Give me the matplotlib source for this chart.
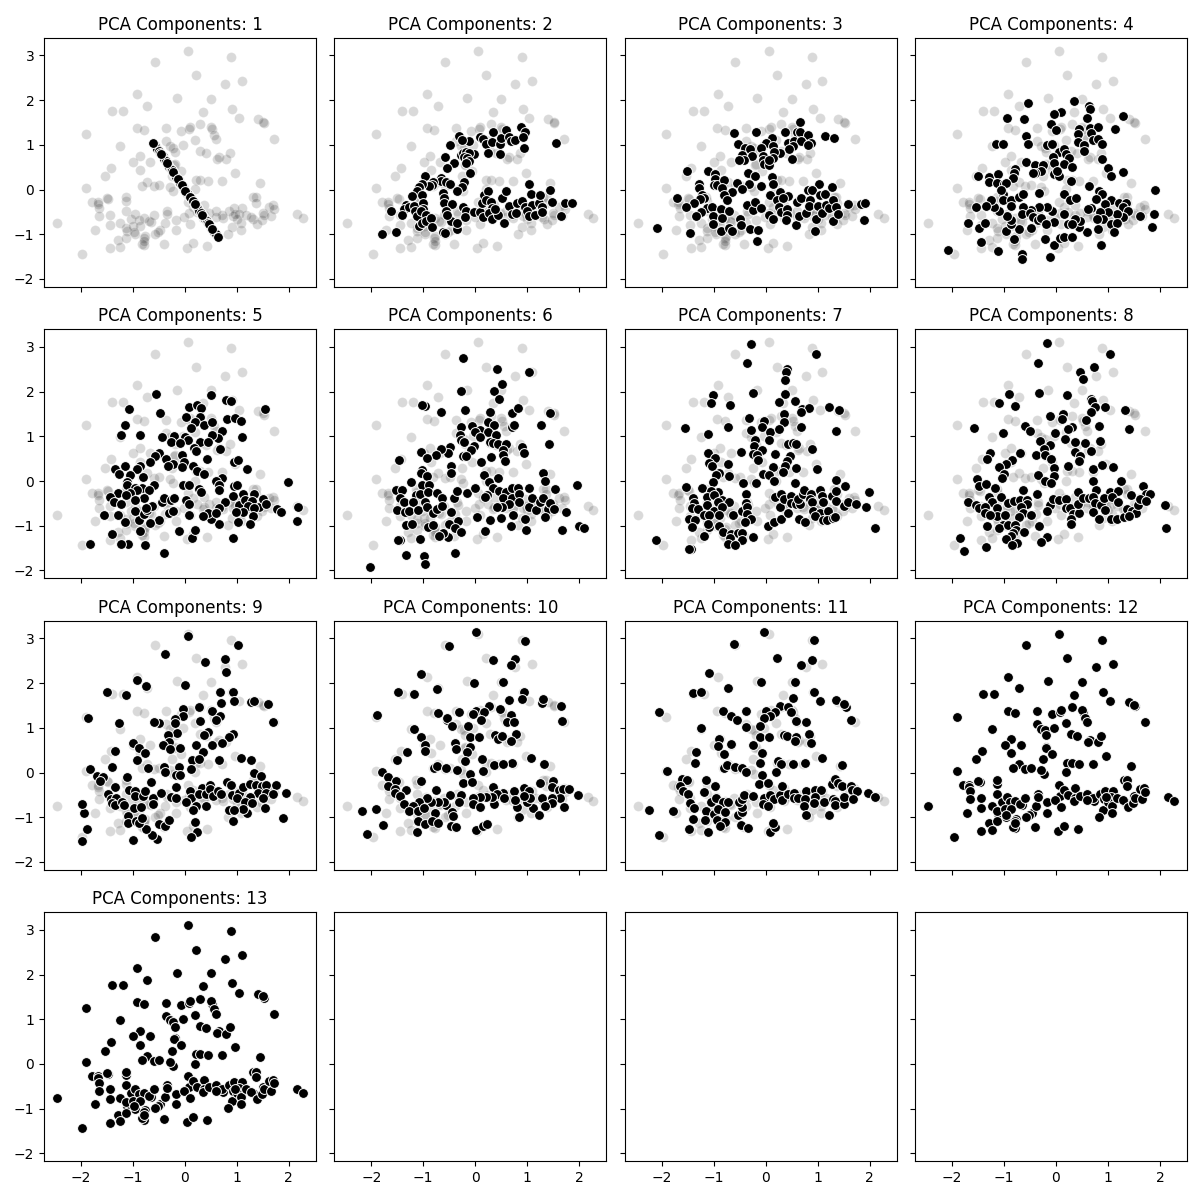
import matplotlib
matplotlib.use("Agg")
import matplotlib.pyplot as plt
import numpy as np

original = [(0.06,3.10),(0.89,2.97),(-0.58,2.85),(0.21,2.56),(0.77,2.35),(1.09,2.43),(-0.92,2.14),(-0.16,2.04),(0.50,2.03),(-0.72,1.88),(-1.40,1.76),(-1.19,1.76),(0.91,1.81),(0.34,1.74),(1.04,1.59),(1.40,1.57),(1.52,1.48),(1.51,1.52),(0.30,1.46),(-1.91,1.25),(-0.93,1.38),(-0.79,1.34),(-0.37,1.37),(-0.08,1.31),(0.07,1.36),(0.10,1.40),(0.52,1.35),(0.50,1.40),(0.56,1.22),(0.60,1.12),(0.20,1.10),(1.71,1.12),(-0.37,1.08),(-0.28,0.98),(-0.22,0.94),(-0.04,1.00),(-1.24,0.98),(-0.19,0.83),(0.29,0.86),(0.40,0.81),(0.65,0.73),(0.62,0.69),(0.80,0.68),(0.86,0.82),(-0.87,0.74),(-0.99,0.62),(-0.67,0.62),(-0.19,0.58),(-0.20,0.55),(-0.86,0.43),(-0.07,0.42),(0.97,0.37),(-1.43,0.49),(-1.54,0.30),(-0.25,0.30),(0.21,0.22),(0.30,0.22),(0.45,0.20),(0.72,0.20),(-1.91,0.04),(-0.72,0.18),(-0.82,0.09),(-0.59,0.07),(-0.49,0.10),(-0.23,-0.04),(-0.28,0.05),(0.20,0.01),(1.44,0.15),(-1.79,-0.27),(-1.67,-0.27),(-1.68,-0.32),(-1.65,-0.42),(-1.47,-0.22),(-1.50,-0.20),(-1.13,-0.25),(-1.14,-0.17),(-1.13,-0.47),(-1.66,-0.60),(-1.45,-0.56),(-1.45,-0.79),(-1.72,-0.90),(-1.24,-0.75),(-1.12,-0.93),(-1.13,-0.86),(-1.03,-0.66),(-0.95,-0.55),(-0.88,-0.67),(-0.78,-0.64),(-0.66,-0.73),(-0.69,-0.71),(-0.60,-0.56),(-0.99,-0.82),(-0.87,-0.82),(-0.96,-1.00),(-0.97,-0.95),(-0.77,-1.03),(-0.79,-1.08),(-0.78,-1.25),(-0.82,-1.21),(-0.78,-1.14),(-1.29,-1.13),(-1.13,-1.09),(-1.44,-1.31),(-1.24,-1.28),(-0.47,-0.90),(-0.52,-0.95),(-0.58,-0.99),(-0.38,-0.74),(-0.35,-0.47),(-0.34,-0.54),(-0.18,-0.67),(-0.17,-0.90),(-0.41,-1.22),(0.07,-0.52),(-0.01,-0.61),(0.06,-0.27),(0.15,-0.39),(0.09,-0.77),(0.24,-0.51),(0.36,-0.35),(0.37,-0.57),(0.35,-0.63),(0.47,-0.52),(0.60,-0.47),(0.73,-0.63),(0.72,-0.57),(0.60,-0.61),(0.84,-0.47),(0.95,-0.41),(0.92,-0.60),(0.90,-0.83),(0.83,-0.99),(1.09,-0.41),(1.05,-0.54),(1.00,-0.65),(0.97,-0.55),(1.07,-0.74),(1.07,-0.90),(1.17,-0.56),(1.32,-0.66),(1.28,-0.62),(1.31,-0.17),(1.36,-0.17),(1.37,-0.30),(1.38,-0.78),(1.48,-0.68),(1.50,-0.52),(1.52,-0.57),(1.61,-0.38),(1.66,-0.60),(1.70,-0.35),(1.72,-0.43),(2.16,-0.55),(2.27,-0.64),(-2.46,-0.75),(-1.97,-1.44),(0.04,-1.30),(0.15,-1.19),(0.42,-1.26)]

pc1 = [(-0.58,0.99),(-0.56,0.96),(-0.53,0.90),(-0.50,0.86),(-0.48,0.82),(-0.43,0.74),(-0.40,0.68),(-0.37,0.63),(-0.32,0.55),(-0.30,0.51),(-0.27,0.46),(-0.25,0.43),(-0.20,0.34),(-0.17,0.29),(-0.12,0.21),(-0.11,0.19),(-0.09,0.15),(-0.04,0.07),(-0.03,0.05),(0.03,-0.05),(0.05,-0.09),(0.06,-0.10),(0.08,-0.14),(0.12,-0.20),(0.17,-0.29),(0.21,-0.36),(0.23,-0.39),(0.26,-0.44),(0.28,-0.47),(0.31,-0.53),(0.35,-0.60),(0.37,-0.63),(0.39,-0.66),(0.42,-0.71),(0.44,-0.75),(0.48,-0.82),(0.50,-0.85),(0.54,-0.92),(0.56,-0.95),(0.59,-1.00),(-0.62,1.05),(-0.46,0.79),(-0.35,0.59),(-0.23,0.39),(-0.14,0.24),(-0.06,0.11),(0.01,-0.03),(0.10,-0.17),(0.15,-0.25),(0.19,-0.32),(0.33,-0.57),(0.46,-0.78),(0.52,-0.88),(0.63,-1.07)]

pc2 = [(-0.31,1.20),(-0.12,1.09),(-0.49,1.00),(-0.25,1.11),(0.09,1.18),(0.15,1.14),(0.20,1.01),(0.35,1.29),(0.33,1.07),(0.48,1.03),(0.50,1.16),(0.59,1.33),(0.64,1.17),(0.68,1.08),(0.77,1.10),(0.88,1.41),(0.96,1.29),(0.91,1.17),(0.93,0.94),(1.55,1.05),(0.25,0.81),(0.48,0.79),(-0.03,0.79),(-0.28,0.77),(-0.24,0.81),(-0.18,0.85),(-0.12,0.82),(-0.22,0.72),(-0.15,0.70),(-0.12,0.64),(-0.17,0.60),(-0.59,0.73),(-0.41,0.60),(-0.55,0.48),(-0.11,0.36),(-0.96,0.31),(-0.66,0.25),(-0.65,0.20),(-0.57,0.16),(-0.48,0.13),(-0.22,0.16),(-0.25,0.05),(-0.36,-0.03),(-0.82,0.17),(-0.83,0.10),(-0.89,0.07),(-1.03,0.13),(-1.08,0.05),(-1.13,-0.04),(-1.22,-0.14),(-1.02,-0.13),(-0.62,-0.07),(-0.60,-0.19),(-0.61,-0.30),(-0.44,-0.32),(-1.33,-0.34),(-1.38,-0.43),(-1.40,-0.56),(-1.62,-0.47),(-1.27,-0.39),(-1.17,-0.36),(-1.16,-0.49),(-1.13,-0.59),(-1.01,-0.30),(-1.01,-0.44),(-1.04,-0.49),(-0.94,-0.58),(-1.09,-0.82),(-1.03,-0.74),(-0.94,-0.71),(-0.85,-0.64),(-0.83,-0.84),(-1.52,-0.95),(-1.80,-1.00),(-0.63,-0.94),(-0.59,-0.98),(-0.36,-0.88),(-0.47,-0.70),(-0.36,-0.74),(-0.57,-0.49),(-0.55,-0.56),(-0.24,-0.38),(-0.18,-0.48),(-0.20,-0.62),(-0.03,-0.51),(0.10,-0.50),(0.15,-0.62),(0.13,-0.30),(0.17,-0.13),(0.24,-0.04),(0.20,-0.23),(0.31,-0.27),(0.32,-0.42),(0.26,-0.53),(0.32,-0.65),(0.44,-0.58),(0.38,-0.44),(0.52,-0.19),(0.60,-0.04),(0.64,-0.36),(0.55,-0.75),(0.71,-0.55),(0.78,-0.53),(0.80,-0.30),(0.90,-0.26),(0.96,-0.38),(1.03,0.12),(1.07,-0.10),(1.09,-0.34),(0.99,-0.49),(1.04,-0.59),(1.15,-0.56),(1.22,-0.30),(1.24,-0.13),(1.29,-0.38),(1.28,-0.50),(1.44,-0.01),(1.47,-0.27),(1.73,-0.30),(1.87,-0.30),(1.64,-0.59)]

pc3 = [(-0.61,1.26),(-0.19,1.28),(0.66,1.50),(0.38,1.28),(0.61,1.29),(0.66,1.29),(0.82,1.22),(1.14,1.20),(1.31,1.15),(0.12,1.16),(0.01,1.04),(0.15,0.98),(-0.54,1.02),(0.43,1.05),(0.54,1.08),(0.68,1.09),(0.88,1.05),(0.82,1.00),(0.52,0.97),(0.45,0.90),(-0.39,0.92),(-0.31,0.91),(-0.08,0.92),(0.27,0.81),(0.17,0.83),(-0.45,0.77),(-0.26,0.76),(-0.41,0.66),(-0.52,0.65),(-0.06,0.76),(-0.06,0.67),(0.15,0.71),(-0.04,0.57),(0.06,0.56),(0.06,0.65),(0.50,0.69),(-1.51,0.42),(-1.11,0.41),(-0.97,0.34),(-0.97,0.24),(-1.00,0.11),(-0.94,0.11),(-0.80,0.21),(-0.83,0.03),(-0.34,0.38),(-0.20,0.30),(-0.55,0.15),(-0.32,0.12),(-0.46,0.01),(-0.08,0.08),(0.13,0.27),(0.15,0.13),(-1.28,0.13),(-1.28,0.03),(-0.64,-0.05),(-0.80,-0.13),(-0.75,-0.23),(-1.22,-0.13),(-1.19,-0.19),(-1.27,-0.21),(-1.71,-0.19),(-1.38,-0.30),(-1.54,-0.38),(-1.13,-0.41),(-1.04,-0.38),(-0.85,-0.44),(-0.70,-0.47),(-1.24,-0.51),(-1.34,-0.59),(-1.01,-0.59),(-0.84,-0.63),(-1.01,-0.76),(-0.86,-0.92),(-0.71,-0.87),(-0.64,-0.92),(-1.45,-0.97),(-2.08,-0.86),(-0.50,-0.65),(-0.48,-0.79),(-0.31,-0.89),(-0.14,-0.91),(-0.17,-1.14),(-0.36,-0.34),(-0.24,-0.45),(-0.20,-0.27),(-0.08,-0.41),(0.06,-0.58),(0.15,-0.65),(0.08,-0.13),(0.27,-0.05),(0.43,-0.14),(0.22,-0.24),(0.34,-0.20),(0.26,-0.38),(0.29,-0.50),(0.42,-0.44),(0.41,-0.57),(0.39,-0.67),(0.58,-0.80),(0.64,-0.60),(0.61,-0.28),(0.68,-0.20),(0.85,-0.23),(0.82,0.00),(1.03,0.12),(0.90,-0.02),(1.04,-0.13),(1.15,-0.09),(1.27,0.06),(0.78,-0.52),(0.83,-0.37),(1.01,-0.37),(0.96,-0.65),(0.95,-0.93),(1.08,-0.52),(1.17,-0.35),(1.22,-0.41),(1.30,-0.23),(1.36,-0.39),(1.29,-0.70),(1.39,-0.54),(1.59,-0.33),(1.83,-0.33),(1.92,-0.30),(1.90,-0.69)]

pc4 = [(-0.53,1.94),(0.34,1.97),(0.64,1.88),(0.65,1.80),(0.10,1.73),(-0.03,1.68),(0.60,1.61),(1.29,1.65),(-0.94,1.60),(-0.62,1.57),(-0.10,1.46),(0.00,1.33),(0.44,1.35),(0.42,1.25),(0.66,1.37),(0.81,1.41),(0.68,1.26),(1.13,1.36),(-0.57,1.20),(-0.54,1.02),(-1.15,1.03),(-1.01,1.03),(-0.18,1.00),(-0.07,1.02),(0.43,1.06),(0.53,1.00),(0.71,1.11),(0.81,1.13),(0.89,1.03),(0.54,0.87),(0.06,0.84),(0.16,0.90),(0.20,0.80),(0.25,0.71),(-0.06,0.72),(-0.04,0.59),(0.89,0.68),(-0.58,0.62),(-0.41,0.54),(-0.25,0.55),(-0.29,0.41),(-0.40,0.36),(-0.45,0.36),(0.15,0.57),(0.31,0.51),(1.00,0.49),(1.05,0.30),(1.29,0.39),(-0.78,0.45),(-0.81,0.36),(-0.83,0.25),(-1.51,0.30),(-1.29,0.27),(-1.29,0.16),(-1.11,0.34),(-1.14,0.15),(-1.00,0.13),(-0.96,0.14),(-0.03,0.35),(0.06,0.30),(0.01,0.41),(0.28,0.19),(0.64,0.09),(-0.32,-0.07),(0.15,-0.09),(0.26,-0.24),(0.39,-0.19),(1.90,-0.01),(0.83,-0.04),(0.89,-0.11),(0.77,-0.22),(1.06,-0.24),(0.94,-0.33),(1.22,-0.30),(1.34,-0.29),(1.28,-0.40),(1.38,-0.49),(1.29,-0.62),(1.17,-0.55),(1.00,-0.51),(0.85,-0.51),(0.91,-0.65),(0.78,-0.65),(0.68,-0.41),(0.62,-0.44),(1.06,-0.77),(1.17,-0.74),(1.11,-0.94),(0.81,-0.88),(0.59,-0.94),(0.45,-0.84),(0.46,-0.71),(0.36,-0.66),(0.24,-0.77),(0.31,-0.78),(0.16,-0.55),(-0.04,-0.73),(-0.08,-0.49),(-0.18,-0.40),(-0.33,-0.40),(-0.49,-0.45),(-0.63,-0.38),(-0.65,-0.55),(-0.50,-0.53),(-0.45,-0.62),(-0.34,-0.68),(-0.29,-0.63),(-0.19,-0.78),(-0.48,-0.85),(-0.71,-0.89),(-0.80,-1.10),(-0.97,-0.93),(-0.87,-0.78),(-0.86,-0.68),(-0.94,-0.60),(-1.09,-0.49),(-1.20,-0.40),(-1.25,-0.23),(-1.35,-0.36),(-1.54,-0.39),(-1.02,-0.10),(-1.06,-0.01),(-1.01,-0.23),(-0.86,-0.23),(-0.87,-0.37),(-0.72,-0.16),(-0.63,-0.09),(-1.69,-0.75),(-1.48,-0.85),(-1.36,-0.75),(-1.45,-1.18),(-1.11,-1.38),(-2.07,-1.35),(-0.65,-1.44),(-0.66,-1.56),(-0.12,-1.52),(-0.04,-1.25),(-0.22,-1.10),(0.07,-1.09),(0.15,-1.06),(0.30,-1.06),(0.87,-1.25),(1.61,-0.60),(1.89,-0.54),(1.85,-0.83)]

pc5 = [(-0.56,1.94),(0.51,1.93),(0.79,1.82),(0.89,1.78),(-1.07,1.61),(-0.47,1.53),(0.08,1.65),(0.24,1.69),(0.31,1.64),(1.54,1.61),(0.03,1.43),(0.29,1.43),(0.19,1.31),(0.36,1.25),(0.52,1.32),(0.81,1.39),(0.96,1.40),(1.07,1.35),(-1.16,1.26),(-1.22,1.04),(-0.87,1.02),(-0.44,0.98),(-0.21,1.00),(0.12,1.18),(0.01,0.98),(0.06,0.92),(0.71,1.12),(0.63,0.97),(0.52,1.04),(1.09,0.99),(-0.26,0.87),(-0.10,0.86),(0.29,0.88),(0.45,0.87),(0.17,0.73),(0.22,0.67),(0.68,0.71),(-0.50,0.63),(-0.57,0.55),(-0.05,0.58),(-0.36,0.49),(-0.68,0.43),(0.42,0.49),(0.95,0.42),(1.03,0.48),(-0.02,0.42),(-0.22,0.39),(-0.33,0.33),(-0.06,0.31),(0.15,0.33),(0.23,0.22),(1.19,0.27),(-1.16,0.33),(-0.87,0.33),(-0.93,0.27),(-1.35,0.27),(-1.27,0.16),(-1.06,0.13),(-0.80,0.08),(0.36,0.16),(0.72,0.07),(0.60,0.01),(1.99,-0.03),(-1.12,-0.02),(-1.11,-0.10),(-0.59,-0.10),(-0.83,-0.15),(-0.95,-0.15),(-0.92,-0.21),(-0.69,-0.21),(-1.06,-0.27),(-1.28,-0.26),(-1.44,-0.35),(-1.37,-0.47),(-1.23,-0.52),(-1.14,-0.32),(-0.78,-0.39),(-0.96,-0.43),(-0.03,-0.10),(0.08,-0.09),(0.27,-0.17),(0.31,-0.25),(0.65,-0.10),(0.66,-0.21),(0.95,-0.12),(1.01,-0.10),(0.93,-0.33),(0.78,-0.48),(0.65,-0.60),(1.11,-0.28),(1.04,-0.54),(1.16,-0.42),(1.33,-0.29),(1.30,-0.45),(1.21,-0.56),(1.42,-0.58),(1.51,-0.41),(1.56,-0.51),(1.33,-0.60),(1.11,-0.69),(0.98,-0.69),(1.32,-0.78),(1.25,-0.97),(1.02,-0.91),(1.78,-0.63),(1.85,-0.69),(2.17,-0.58),(2.16,-0.89),(0.92,-1.27),(0.66,-0.97),(0.51,-0.85),(0.45,-0.72),(0.34,-0.79),(0.60,-0.71),(0.07,-0.75),(0.02,-0.43),(0.08,-0.52),(0.13,-1.28),(0.20,-1.09),(-0.11,-1.12),(-0.40,-1.60),(-1.10,-1.40),(-1.23,-1.40),(-0.77,-1.43),(-1.82,-1.40),(-1.40,-1.19),(-0.87,-1.11),(-0.50,-0.88),(-0.68,-0.94),(-0.88,-0.88),(-1.16,-0.91),(-1.28,-0.77),(-1.56,-0.77),(-0.96,-0.68),(-0.79,-0.73),(-0.72,-0.65),(-0.63,-0.56),(-0.74,-0.60),(-0.44,-0.48),(-0.41,-0.39),(-0.27,-0.42),(-0.20,-0.39),(-0.31,-0.72),(-0.22,-0.68)]

pc6 = [(-0.24,2.75),(0.42,2.51),(1.03,2.43),(0.52,2.17),(-0.28,2.01),(0.37,2.01),(0.45,1.84),(-0.97,1.67),(-1.03,1.69),(-0.65,1.55),(-0.20,1.60),(0.28,1.55),(0.71,1.52),(0.83,1.63),(1.43,1.52),(0.24,1.33),(0.36,1.26),(0.70,1.20),(0.74,1.26),(1.27,1.26),(-0.27,1.20),(-0.07,1.22),(0.10,1.15),(-0.01,1.09),(0.24,1.09),(-0.29,1.03),(0.10,0.98),(0.40,1.03),(-0.27,0.91),(-0.21,0.87),(-0.02,0.79),(0.29,0.88),(0.34,0.84),(0.43,0.83),(0.59,0.83),(0.53,0.70),(0.53,0.59),(0.57,0.44),(1.41,0.82),(0.90,0.76),(0.94,0.63),(-0.48,0.77),(-0.52,0.62),(-0.65,0.71),(-0.75,0.58),(-1.04,0.65),(-0.92,0.51),(-1.46,0.48),(-0.08,0.69),(-0.24,0.57),(-0.17,0.55),(0.31,0.53),(0.11,0.42),(-0.47,0.34),(-0.47,0.19),(-1.02,0.25),(-1.04,0.19),(-0.93,0.12),(0.16,0.13),(0.43,0.07),(1.31,0.19),(1.35,0.00),(-1.24,-0.03),(-1.03,-0.10),(-0.89,-0.09),(-1.53,-0.19),(-1.41,-0.21),(-1.45,-0.37),(-1.38,-0.48),(-1.14,-0.32),(-1.06,-0.28),(-0.91,-0.25),(-0.96,-0.47),(-1.19,-0.48),(-1.50,-0.65),(-1.35,-0.70),(-1.27,-0.68),(-1.11,-0.65),(-0.93,-0.59),(-0.81,-0.71),(-0.73,-0.27),(-0.64,-0.37),(-0.73,-0.62),(-0.64,-0.56),(-0.46,-0.70),(-0.41,-0.39),(-0.35,-0.23),(-0.15,-0.26),(-0.01,-0.15),(0.26,-0.02),(0.34,-0.15),(0.45,-0.22),(0.59,-0.25),(0.71,-0.16),(0.83,-0.15),(1.04,-0.16),(1.54,-0.17),(1.96,-0.09),(0.23,-0.32),(0.18,-0.36),(0.54,-0.39),(0.71,-0.38),(0.85,-0.30),(0.85,-0.48),(0.64,-0.52),(0.52,-0.59),(0.41,-0.57),(1.03,-0.58),(1.10,-0.39),(1.16,-0.64),(1.25,-0.48),(1.31,-0.38),(1.39,-0.62),(1.44,-0.49),(1.51,-0.62),(1.35,-0.80),(1.75,-0.70),(0.72,-0.75),(0.96,-0.84),(0.49,-0.82),(0.29,-0.88),(0.03,-0.80),(0.68,-1.00),(0.98,-1.09),(0.19,-1.12),(1.67,-1.09),(1.99,-1.00),(2.10,-1.05),(-0.34,-0.89),(-0.50,-0.97),(-0.38,-1.05),(-0.27,-1.14),(-0.52,-1.26),(-0.63,-1.17),(-0.69,-1.22),(-0.90,-1.02),(-0.81,-0.99),(-1.34,-0.99),(-1.22,-0.96),(-1.06,-1.29),(-1.45,-1.32),(-1.49,-1.32),(-1.33,-1.66),(-0.98,-1.67),(-0.96,-1.86),(-0.39,-1.62),(-2.03,-1.92)]

pc7 = [(-0.29,3.07),(0.97,2.85),(-0.36,2.63),(0.42,2.51),(0.39,2.43),(0.38,2.25),(0.38,1.94),(-0.25,1.97),(-1.01,1.93),(-1.05,1.75),(-0.68,1.69),(0.25,1.77),(0.57,1.78),(1.22,1.66),(1.42,1.59),(0.70,1.61),(0.83,1.63),(0.69,1.54),(0.36,1.51),(0.36,1.32),(-1.56,1.18),(-1.10,1.05),(-0.72,1.20),(-0.32,1.40),(-0.04,1.35),(-0.07,1.20),(-0.29,1.14),(0.08,1.09),(0.26,1.17),(0.69,1.21),(1.36,1.13),(-0.21,0.92),(0.06,0.91),(-0.22,0.78),(-0.47,0.65),(-0.07,0.70),(-0.24,0.60),(-0.17,0.59),(-0.15,0.48),(0.43,0.83),(0.52,0.85),(0.59,0.83),(0.90,0.71),(0.18,0.60),(0.46,0.56),(0.41,0.44),(0.38,0.34),(0.34,0.20),(0.14,0.32),(0.58,0.30),(0.98,0.28),(-0.06,0.15),(0.07,0.14),(0.16,0.01),(-1.10,0.63),(-0.98,0.52),(-1.08,0.40),(-1.03,0.34),(-0.72,0.37),(-0.89,0.18),(-0.96,0.14),(-0.71,0.11),(-1.01,-0.02),(-1.53,-0.13),(-1.22,-0.16),(-0.43,-0.04),(-0.18,-0.05),(0.57,-0.04),(1.35,0.03),(1.53,-0.12),(1.98,-0.24),(-0.92,-0.24),(-1.06,-0.22),(-1.12,-0.36),(-1.00,-0.32),(-1.39,-0.37),(-1.38,-0.49),(-1.42,-0.60),(-1.31,-0.62),(-1.12,-0.54),(-1.00,-0.66),(-0.83,-0.42),(-0.92,-0.46),(-0.71,-0.46),(-0.83,-0.59),(-0.90,-0.76),(-1.18,-0.77),(-1.09,-0.77),(-1.48,-0.85),(-1.35,-0.87),(-1.41,-1.03),(-1.08,-1.03),(-1.10,-0.96),(-0.90,-1.00),(-0.82,-1.13),(-1.19,-1.22),(-0.66,-1.19),(-0.54,-1.17),(-0.45,-1.17),(-0.68,-1.27),(-0.45,-1.33),(-0.25,-1.26),(-0.73,-1.41),(-0.59,-1.43),(-2.10,-1.31),(-1.43,-1.51),(-1.47,-1.52),(-0.62,-0.75),(-0.46,-0.68),(-0.38,-0.30),(-0.38,-0.49),(-0.36,-0.59),(-0.36,-0.73),(-0.29,-0.85),(-0.39,-0.92),(0.05,-1.01),(0.17,-0.92),(0.29,-0.86),(0.44,-0.71),(0.27,-0.59),(0.18,-0.35),(0.29,-0.28),(0.36,-0.40),(0.48,-0.34),(0.48,-0.49),(0.58,-0.52),(0.66,-0.52),(0.62,-0.41),(0.71,-0.29),(0.73,-0.21),(0.88,-0.29),(0.86,-0.40),(0.90,-0.46),(1.05,-0.21),(1.08,-0.34),(1.11,-0.48),(0.92,-0.66),(1.04,-0.71),(0.95,-0.78),(0.65,-0.86),(0.75,-0.91),(1.20,-0.66),(1.11,-0.87),(1.19,-0.87),(1.30,-0.83),(1.34,-0.80),(1.27,-0.34),(1.36,-0.23),(1.36,-0.44),(1.50,-0.55),(1.59,-0.46),(1.73,-0.52),(1.94,-0.58),(2.10,-1.06)]

pc8 = [(-0.18,3.09),(1.03,2.85),(-0.34,2.63),(0.73,2.55),(0.46,2.45),(0.52,2.28),(-0.33,1.97),(-0.91,1.95),(0.21,1.92),(-1.09,1.75),(-0.78,1.68),(0.68,1.83),(0.69,1.80),(0.75,1.65),(0.95,1.66),(0.68,1.55),(1.32,1.59),(0.13,1.50),(-0.12,1.45),(0.11,1.38),(0.58,1.37),(-0.59,1.24),(-0.50,1.13),(0.31,1.21),(0.24,1.17),(0.82,1.23),(-1.57,1.18),(-1.02,1.07),(-0.02,1.08),(1.40,1.16),(-0.31,0.90),(0.18,0.94),(0.36,0.87),(0.55,0.84),(0.85,0.89),(-0.11,0.80),(-0.24,0.71),(-0.38,0.58),(-0.21,0.59),(0.36,0.65),(0.68,0.68),(0.46,0.57),(0.45,0.44),(-0.70,0.62),(-1.27,0.62),(-1.33,0.49),(-0.85,0.46),(-0.96,0.37),(-1.10,0.32),(-0.10,0.49),(-0.03,0.30),(0.23,0.33),(0.71,0.28),(0.88,0.36),(1.10,0.31),(-1.00,0.16),(-1.04,0.06),(-0.35,0.13),(-0.04,0.12),(-0.22,-0.01),(-0.10,-0.04),(0.71,-0.01),(1.25,0.00),(-1.52,0.04),(-1.49,-0.11),(-1.34,-0.07),(-1.17,-0.15),(-0.64,-0.21),(-1.28,-0.35),(-1.06,-0.36),(-1.23,-0.48),(-0.36,-0.29),(0.43,-0.25),(0.76,-0.20),(1.03,-0.24),(1.20,-0.23),(1.67,-0.12),(1.45,-0.31),(1.73,-0.29),(1.81,-0.30),(-1.70,-0.46),(-1.54,-0.53),(-1.49,-0.60),(-1.36,-0.58),(-1.37,-0.71),(-1.13,-0.60),(-1.13,-0.78),(-1.27,-0.77),(-0.98,-0.75),(-0.93,-0.50),(-0.81,-0.44),(-0.69,-0.42),(-0.55,-0.42),(-0.55,-0.51),(-0.68,-0.57),(-0.63,-0.71),(-0.71,-0.80),(-0.48,-0.75),(-1.33,-1.00),(-1.02,-0.99),(-1.09,-1.06),(-0.92,-0.99),(-0.78,-0.99),(-0.76,-1.09),(-0.82,-1.16),(-0.87,-1.24),(-0.96,-1.30),(-0.75,-1.39),(-0.85,-1.43),(-1.34,-1.47),(-1.84,-1.27),(-1.77,-1.56),(-0.61,-1.13),(-0.32,-1.01),(-0.18,-1.25),(-0.29,-1.37),(-0.11,-0.54),(-0.18,-0.66),(-0.06,-0.40),(0.05,-0.42),(0.19,-0.41),(0.20,-0.60),(0.26,-0.60),(0.33,-0.74),(0.29,-0.85),(0.29,-0.97),(0.45,-0.71),(0.43,-0.51),(0.52,-0.39),(0.64,-0.38),(0.71,-0.35),(0.75,-0.49),(0.87,-0.53),(0.93,-0.38),(1.07,-0.36),(1.20,-0.46),(0.95,-0.65),(0.72,-0.70),(0.83,-0.84),(1.05,-0.85),(1.17,-0.85),(1.31,-0.81),(1.37,-0.62),(1.47,-0.66),(1.54,-0.71),(1.41,-0.79),(1.57,-0.54),(1.62,-0.41),(1.74,-0.44),(2.10,-0.54),(2.12,-1.05)]

pc9 = [(0.06,3.06),(1.03,2.86),(-0.38,2.65),(0.78,2.54),(0.38,2.47),(0.79,2.24),(-0.93,2.06),(-0.75,1.93),(0.00,1.96),(-1.49,1.81),(-1.14,1.74),(0.68,1.81),(0.93,1.81),(0.94,1.61),(1.28,1.58),(1.33,1.60),(1.60,1.54),(0.69,1.55),(0.27,1.46),(-0.04,1.41),(-0.03,1.26),(0.53,1.37),(0.68,1.27),(0.59,1.17),(0.30,1.16),(-1.86,1.23),(-1.27,1.11),(-0.49,1.11),(-0.59,1.14),(-0.19,1.19),(-0.19,1.11),(1.69,1.12),(-0.15,0.89),(-0.32,0.84),(-0.31,0.69),(-0.43,0.62),(-0.28,0.52),(-0.10,0.54),(0.45,0.90),(0.37,0.84),(0.93,0.86),(0.84,0.79),(0.72,0.66),(0.52,0.62),(0.21,0.61),(0.34,0.46),(-1.00,0.65),(-1.35,0.47),(-0.88,0.55),(-0.77,0.44),(-0.93,0.29),(0.14,0.27),(0.27,0.31),(0.66,0.29),(1.07,0.33),(1.27,0.28),(-1.83,0.07),(-1.40,0.12),(-0.70,0.10),(-0.40,0.13),(-0.38,0.01),(-0.11,0.13),(0.11,0.08),(-0.17,-0.05),(-0.10,-0.05),(1.33,0.00),(1.46,-0.08),(-1.69,-0.08),(-1.57,-0.10),(-1.64,-0.20),(-1.11,-0.11),(-0.66,-0.21),(-1.34,-0.33),(-1.48,-0.48),(-1.43,-0.59),(-1.32,-0.58),(-1.40,-0.68),(-1.35,-0.73),(-1.20,-0.67),(-1.18,-0.73),(-1.07,-0.39),(-0.96,-0.41),(-0.96,-0.53),(-0.81,-0.52),(-0.77,-0.41),(-0.62,-0.57),(-0.62,-0.71),(-0.97,-0.80),(-0.85,-0.77),(-0.46,-0.45),(-0.17,-0.32),(-0.26,-0.54),(-0.17,-0.57),(0.09,-0.42),(0.11,-0.56),(0.03,-0.66),(0.22,-0.75),(0.15,-0.84),(0.40,-0.76),(0.32,-0.34),(0.28,-0.48),(0.40,-0.48),(0.48,-0.27),(0.49,-0.37),(0.54,-0.53),(0.63,-0.41),(0.70,-0.48),(0.81,-0.22),(0.89,-0.27),(0.90,-0.50),(1.04,-0.45),(1.11,-0.33),(1.01,-0.58),(1.26,-0.25),(1.36,-0.27),(1.49,-0.30),(1.56,-0.27),(1.76,-0.28),(1.94,-0.46),(1.41,-0.45),(1.57,-0.45),(1.69,-0.48),(1.26,-0.54),(1.50,-0.57),(1.15,-0.66),(1.30,-0.69),(1.55,-0.79),(1.19,-0.90),(1.11,-0.82),(0.84,-0.83),(0.94,-0.84),(0.92,-1.08),(1.88,-1.02),(0.19,-1.10),(0.24,-1.32),(0.12,-1.44),(-1.95,-0.91),(-1.98,-0.71),(-1.88,-1.27),(-1.98,-1.53),(-0.99,-1.52),(-0.54,-1.49),(-0.63,-1.40),(-0.75,-1.27),(-0.50,-1.15),(-0.39,-1.19),(-0.31,-1.06),(-1.09,-0.97),(-1.09,-1.14),(-0.94,-1.08),(-0.88,-1.14),(-0.83,-1.02)]

pc10 = [(0.01,3.14),(0.96,2.94),(-0.50,2.83),(0.34,2.52),(0.77,2.55),(0.69,2.40),(-1.04,2.20),(-0.03,2.00),(0.54,2.03),(-0.73,1.87),(-1.49,1.81),(-1.17,1.76),(0.94,1.81),(0.90,1.65),(0.64,1.62),(1.29,1.56),(1.31,1.64),(1.64,1.48),(0.26,1.49),(0.48,1.43),(0.01,1.38),(0.17,1.35),(-0.05,1.31),(-0.31,1.36),(-0.71,1.33),(-1.89,1.29),(-0.54,1.17),(-0.55,1.23),(-0.45,1.04),(0.11,1.17),(-0.14,1.04),(0.68,1.29),(0.61,1.13),(0.75,1.14),(1.66,1.15),(-1.17,0.97),(-1.04,0.80),(-0.10,0.80),(0.08,0.80),(0.38,0.83),(0.43,0.76),(0.51,0.82),(0.78,0.87),(0.68,0.71),(-0.38,0.67),(-0.37,0.53),(-0.11,0.57),(-0.15,0.46),(-0.97,0.62),(-0.97,0.48),(-1.32,0.45),(-1.50,0.27),(-0.20,0.25),(0.13,0.30),(1.07,0.33),(1.32,0.20),(0.71,0.22),(0.37,0.16),(0.53,0.18),(-0.80,0.11),(-0.73,0.14),(-0.57,0.11),(-0.36,0.06),(0.14,0.04),(-1.79,0.01),(-1.68,-0.10),(-1.52,-0.18),(-1.68,-0.30),(-1.55,-0.37),(-1.55,-0.46),(-1.34,-0.39),(-1.45,-0.53),(-1.38,-0.71),(-1.04,-0.20),(-0.75,-0.39),(-0.10,-0.04),(-0.23,-0.23),(-0.06,-0.21),(0.34,-0.32),(1.25,-0.24),(1.50,-0.20),(1.48,-0.33),(0.94,-0.34),(1.03,-0.41),(0.74,-0.42),(0.54,-0.45),(0.41,-0.48),(1.61,-0.39),(1.69,-0.36),(1.81,-0.36),(1.97,-0.51),(1.63,-0.57),(1.48,-0.56),(1.28,-0.58),(1.47,-0.69),(1.34,-0.76),(1.71,-0.77),(1.11,-0.79),(1.22,-0.95),(0.99,-0.65),(1.06,-0.56),(0.93,-0.52),(0.85,-0.99),(0.80,-0.77),(0.77,-0.61),(0.55,-0.56),(0.36,-0.71),(0.32,-0.54),(0.20,-0.54),(0.09,-0.55),(-0.05,-0.57),(-0.05,-0.71),(0.10,-0.77),(-0.28,-0.50),(-0.31,-0.65),(-0.48,-0.50),(-0.57,-0.73),(-0.60,-0.65),(-0.72,-0.67),(-0.86,-0.65),(-0.93,-0.57),(-1.08,-0.65),(-1.20,-0.76),(-1.27,-0.85),(-1.11,-0.87),(-0.99,-0.79),(-0.77,-0.90),(-2.17,-0.86),(-1.91,-0.81),(-1.77,-1.17),(-2.08,-1.38),(-1.13,-1.32),(-1.11,-1.09),(-0.97,-1.16),(-0.83,-1.09),(-0.72,-1.12),(-0.45,-0.89),(-0.43,-0.97),(-0.46,-1.20),(-0.37,-1.23),(0.01,-1.29),(0.15,-1.20),(0.22,-1.15)]

pc11 = [(-0.04,3.15),(0.93,2.97),(-0.60,2.87),(0.21,2.57),(0.90,2.51),(0.69,2.40),(-1.08,2.22),(-0.08,2.02),(0.57,2.02),(-0.72,1.88),(-1.39,1.78),(-1.25,1.80),(0.94,1.81),(0.52,1.66),(1.05,1.61),(1.35,1.62),(1.55,1.47),(1.50,1.53),(0.28,1.48),(0.43,1.46),(0.00,1.38),(0.18,1.35),(0.08,1.26),(-0.03,1.21),(-2.06,1.35),(-0.82,1.37),(-0.37,1.38),(-0.66,1.26),(-0.56,1.18),(0.48,1.35),(0.59,1.15),(0.77,1.14),(1.65,1.17),(-1.24,0.99),(-0.37,1.01),(-0.10,1.03),(-0.90,0.76),(-0.92,0.60),(-0.67,0.63),(-0.25,0.61),(-0.10,0.80),(0.06,0.80),(0.36,0.85),(0.41,0.82),(0.59,0.80),(0.56,0.71),(0.83,0.86),(0.87,0.66),(-1.34,0.46),(-0.80,0.42),(-0.07,0.44),(1.09,0.32),(-1.35,0.22),(-0.11,0.22),(0.24,0.26),(0.30,0.19),(0.52,0.18),(0.76,0.22),(1.46,0.16),(-1.89,0.04),(-0.81,0.10),(-0.75,0.16),(-0.58,0.12),(-0.45,0.10),(-0.37,0.02),(0.20,0.02),(-0.07,-0.05),(-0.12,-0.26),(0.04,-0.24),(-1.60,-0.15),(-1.52,-0.16),(-1.14,-0.17),(-0.97,-0.31),(-1.65,-0.30),(-1.58,-0.41),(-1.50,-0.49),(-1.18,-0.43),(-1.45,-0.68),(-1.38,-0.80),(-1.06,-0.65),(-0.95,-0.57),(-0.82,-0.67),(-0.72,-0.65),(-1.14,-0.86),(-1.00,-0.92),(-0.91,-0.82),(-0.78,-0.89),(-1.39,-1.03),(-1.16,-1.07),(-0.93,-1.06),(-0.78,-1.10),(-0.87,-1.19),(-1.48,-1.26),(-1.10,-1.32),(-2.24,-0.83),(-1.78,-0.85),(-2.05,-1.39),(-0.48,-1.18),(-0.33,-1.25),(0.09,-1.32),(0.18,-1.21),(0.15,-1.12),(-0.53,-0.94),(-0.45,-0.89),(-0.45,-0.77),(-0.51,-0.67),(-0.46,-0.60),(-0.42,-0.51),(-0.25,-0.52),(-0.04,-0.57),(0.08,-0.50),(0.17,-0.60),(-0.05,-0.70),(0.04,-0.74),(0.27,-0.50),(0.31,-0.61),(0.32,-0.31),(0.43,-0.48),(0.55,-0.46),(0.54,-0.58),(0.63,-0.58),(0.78,-0.42),(0.76,-0.59),(0.74,-0.74),(0.78,-0.96),(0.95,-0.39),(1.06,-0.39),(0.95,-0.54),(0.94,-0.68),(1.12,-0.65),(1.30,-0.60),(1.34,-0.64),(1.33,-0.73),(1.50,-0.70),(1.50,-0.55),(1.22,-0.95),(1.27,-0.25),(1.34,-0.14),(1.40,-0.24),(1.47,-0.31),(1.64,-0.30),(1.67,-0.39),(1.76,-0.42),(1.96,-0.45),(2.10,-0.55),(1.68,-0.60)]

pc12 = original
pc13 = original

pc_counts = list(range(1, 14))
panels = [pc1, pc2, pc3, pc4, pc5, pc6, pc7, pc8, pc9, pc10, pc11, pc12, pc13]
x_ticks = [-2, -1, 0, 1, 2]
y_ticks = [-2, -1, 0, 1, 2, 3]

fig, axes = plt.subplots(4, 4, figsize=(12, 12), dpi=100, sharex=True, sharey=True)
fig.subplots_adjust(left=44/1200, right=1187/1200, top=1-38/1200, bottom=1-1161/1200,
                    wspace=18.5/272, hspace=43/249)
base = np.array(original)
for ax, n, pts in zip(axes.flat, pc_counts, panels):
    p = np.array(pts)
    ax.scatter(base[:, 0], base[:, 1], s=50, c="black", alpha=0.15, edgecolors="white", linewidths=0.7)
    ax.scatter(p[:, 0], p[:, 1], s=50, c="black", edgecolors="white", linewidths=0.7)
    ax.set_title(f"PCA Components: {n}", fontsize=12)
axes[0, 0].set_xlim(-2.71, 2.52)
axes[0, 0].set_ylim(-2.17, 3.39)
axes[0, 0].set_xticks(x_ticks)
axes[0, 0].set_yticks(y_ticks)
fig.savefig("out.png", dpi=100)
